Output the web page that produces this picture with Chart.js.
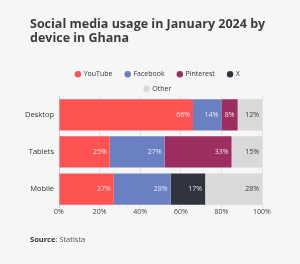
<!DOCTYPE html>
<html>
<head>
<meta charset="utf-8">
<script src="https://cdn.jsdelivr.net/npm/chart.js@4"></script>
<style>
  html, body { margin: 0; padding: 0; background: #f6f6f6; }
  #wrap { position: relative; width: 300px; height: 264px; font-family: 'Open Sans', sans-serif; }
  #chart { position: absolute; left: 0; top: 0; }
  .title { position: absolute; left: 30px; top: 17px; font-size: 12.5px; line-height: 14.3px; font-weight: bold; color: #3c3c3c; white-space: nowrap; }
  .source { position: absolute; left: 30px; top: 233px; font-size: 7.5px; line-height: 12px; color: #555555; }
  .source b { color: #333333; }
</style>
</head>
<body>
<div id="wrap">
  <canvas id="chart" width="300" height="264"></canvas>
  <div class="title">Social media usage in January 2024 by<br>device in Ghana</div>
  <div class="source"><b>Source</b>: Statista</div>
</div>
<script>
const devices = ['Desktop', 'Tablets', 'Mobile'];
const youtube = [66, 25, 27];
const facebook = [14, 27, 28];
const pinterest = [8, 33, 0];
const xSite = [0, 0, 17];
const other = [12, 15, 28];
const xTicks = ['0%', '20%', '40%', '60%', '80%', '100%'];

const FONT = "'Open Sans', sans-serif";

// value labels drawn inside each bar segment, right aligned
const barLabels = {
    id: 'barLabels',
    afterDatasetsDraw(chart) {
        const ctx = chart.ctx;
        ctx.save();
        ctx.font = '7px ' + FONT;
        ctx.textAlign = 'right';
        ctx.textBaseline = 'middle';
        chart.data.datasets.forEach((ds, i) => {
            const meta = chart.getDatasetMeta(i);
            meta.data.forEach((bar, j) => {
                const v = ds.data[j];
                if (!v) return;
                ctx.fillStyle = ds.label === 'Other' ? '#3a3a3a' : 'rgba(255,255,255,0.85)';
                ctx.fillText(v + '%', bar.x - 3, bar.y);
            });
        });
        ctx.restore();
    },
};

Chart.register(barLabels);

new Chart(document.getElementById('chart'), {
    type: 'bar',
    data: {
        labels: devices,
        datasets: [
            { label: 'YouTube', data: youtube, backgroundColor: '#ff5252' },
            { label: 'Facebook', data: facebook, backgroundColor: '#6a80c2' },
            { label: 'Pinterest', data: pinterest, backgroundColor: '#9c2e62' },
            { label: 'X', data: xSite, backgroundColor: '#2f343f' },
            { label: 'Other', data: other, backgroundColor: '#d9d9d9' },
        ],
    },
    options: {
        indexAxis: 'y',
        responsive: false,
        animation: false,
        devicePixelRatio: 1,
        layout: { padding: { left: 20, right: 38, top: 63.3, bottom: 48 } },
        datasets: { bar: { categoryPercentage: 1, barPercentage: 0.84, borderWidth: 0 } },
        scales: {
            x: {
                stacked: true,
                min: 0,
                max: 100,
                border: { display: false },
                grid: { color: '#e2e2e2', drawTicks: false },
                ticks: {
                    stepSize: 20,
                    padding: 0,
                    color: '#444444',
                    font: { family: FONT, size: 7 },
                    callback: (v, i) => xTicks[i],
                },
            },
            y: {
                stacked: true,
                border: { display: true, color: '#cccccc' },
                grid: { display: false, drawTicks: false },
                ticks: { padding: 5, color: '#333333', font: { family: FONT, size: 7.5 } },
                afterFit: (scale) => { scale.width = 39; },
            },
        },
        plugins: {
            legend: {
                position: 'top',
                fullSize: false,
                maxHeight: 33,
                labels: {
                    usePointStyle: true,
                    pointStyle: 'circle',
                    boxWidth: 4.5,
                    boxHeight: 4.5,
                    padding: 7.5,
                    color: '#333333',
                    font: { family: FONT, size: 7 },
                    generateLabels(chart) {
                        return chart.data.datasets.map((ds, i) => ({
                            text: ds.label + '   ',
                            fillStyle: ds.backgroundColor,
                            strokeStyle: ds.backgroundColor,
                            lineWidth: 0,
                            pointStyle: 'circle',
                            fontColor: '#333333',
                            datasetIndex: i,
                        }));
                    },
                },
            },
            tooltip: { enabled: false },
        },
    },
});
</script>
</body>
</html>
